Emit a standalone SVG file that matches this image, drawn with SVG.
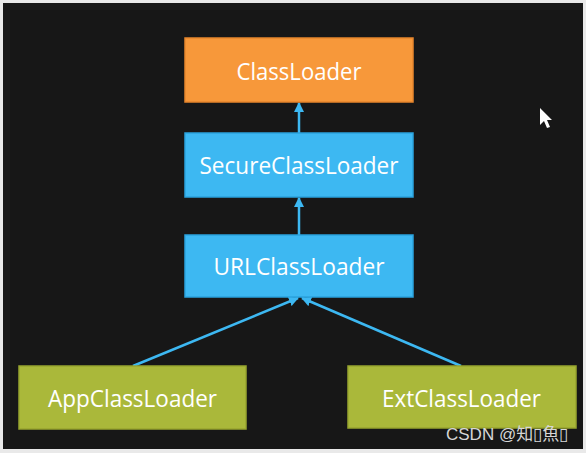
<svg xmlns="http://www.w3.org/2000/svg" width="586" height="453" viewBox="0 0 586 453">
<defs>
<style>
.lbl{font-family:"Open Sans","Noto Sans","DejaVu Sans",sans-serif;font-size:23px;fill:#ffffff;text-anchor:middle}
.or{fill:#F7983A;stroke:#E8862C;stroke-width:1.5}
.bl{fill:#3DB8F2;stroke:#2AA3DE;stroke-width:1.5}
.gr{fill:#AAB83A;stroke:#98A52F;stroke-width:1.5}
.con{stroke:#3DB8F2;stroke-width:2.5;fill:none;marker-end:url(#ah)}
.wm{font-family:"Liberation Sans","Noto Sans CJK SC",sans-serif;font-size:17px;fill:#d6d6d6}
</style>
<marker id="ah" viewBox="0 0 10 10" refX="9" refY="5" markerWidth="4" markerHeight="4" orient="auto" markerUnits="strokeWidth">
<path d="M0,0 L10,5 L0,10 z" fill="#3DB8F2"/>
</marker>
</defs>
<rect x="0" y="0" width="586" height="453" fill="#e9e9e9"/>
<rect x="3" y="3" width="580" height="446" fill="#171717"/>
<g id="connectors">
<line class="con" x1="299" y1="133" x2="299" y2="103"/>
<line class="con" x1="299" y1="235" x2="299" y2="198"/>
<line class="con" x1="133" y1="366" x2="298" y2="298"/>
<line class="con" x1="461" y1="366" x2="302" y2="298"/>
</g>
<g id="classloader">
<rect class="or" x="185" y="38" width="228" height="64"/>
<text class="lbl" x="299" y="80" textLength="125" lengthAdjust="spacingAndGlyphs">ClassLoader</text>
</g>
<g id="secureclassloader">
<rect class="bl" x="185" y="133" width="228" height="64"/>
<text class="lbl" x="299" y="174" textLength="199" lengthAdjust="spacingAndGlyphs">SecureClassLoader</text>
</g>
<g id="urlclassloader">
<rect class="bl" x="185" y="235" width="228" height="62"/>
<text class="lbl" x="299" y="275" textLength="171" lengthAdjust="spacingAndGlyphs">URLClassLoader</text>
</g>
<g id="appclassloader">
<rect class="gr" x="19" y="366" width="227" height="63"/>
<text class="lbl" x="132.5" y="407" textLength="169" lengthAdjust="spacingAndGlyphs">AppClassLoader</text>
</g>
<g id="extclassloader">
<rect class="gr" x="348" y="366" width="228" height="62"/>
<text class="lbl" x="461.5" y="407" textLength="159" lengthAdjust="spacingAndGlyphs">ExtClassLoader</text>
</g>
<path d="M540,108 L540,125 L544,121 L547,128 L550,127 L547,120 L552,120 Z" fill="#ffffff"/>
<text class="wm" x="446" y="440">CSDN @知▯魚▯</text>
</svg>
